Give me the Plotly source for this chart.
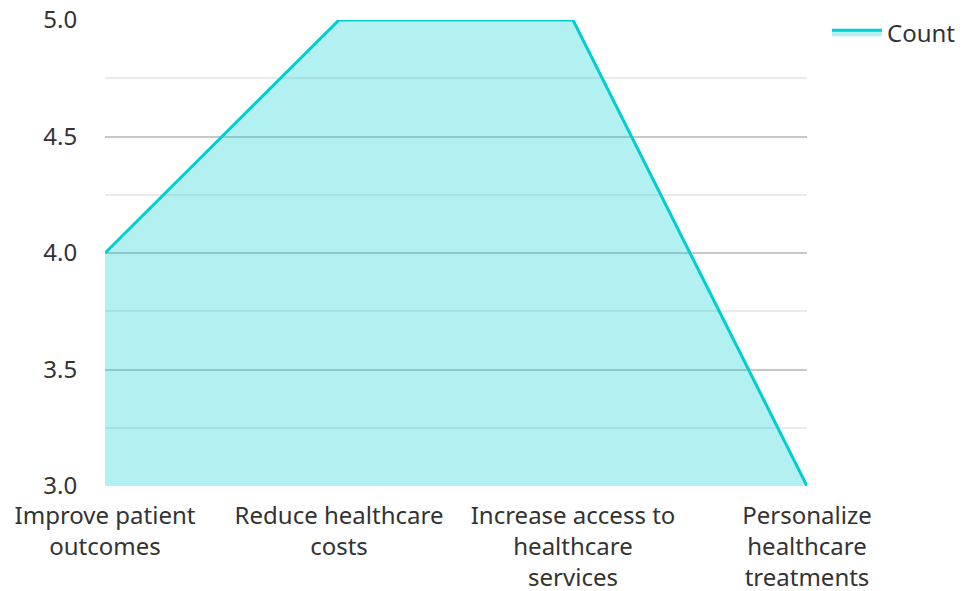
import plotly.graph_objects as go

categories = ["Improve patient<br>outcomes", "Reduce healthcare<br>costs",
              "Increase access to<br>healthcare<br>services", "Personalize<br>healthcare<br>treatments"]
counts = [4, 5, 5, 3]
series_name = "Count"

fig = go.Figure()
fig.add_trace(go.Scatter(
    x=categories, y=counts, name=series_name, mode="lines",
    line=dict(color="#00CED1", width=3),
    fill="tozeroy", fillcolor="rgba(0,206,209,0.3)",
))

font_family = "Noto Sans, Open Sans, sans-serif"
fs = 24
fig.update_layout(
    width=965, height=591,
    margin=dict(l=105, r=158, t=20, b=105),
    paper_bgcolor="white", plot_bgcolor="white",
    font=dict(family=font_family, size=fs, color="#333333"),
    showlegend=True,
    legend=dict(x=0.857, y=0.983, xref="container", yref="container", xanchor="left", yanchor="top",
                itemwidth=50, font=dict(size=fs, color="#333333"), bgcolor="rgba(0,0,0,0)"),
    xaxis=dict(type="category", range=[0, 3], showgrid=False, zeroline=False, automargin=False,
               showline=False, ticks="outside", ticklen=8, tickcolor="rgba(0,0,0,0)",
               tickfont=dict(size=fs, color="#333333")),
    yaxis=dict(range=[3, 5], dtick=0.5, tick0=3, tickformat=".1f", automargin=False,
               showgrid=True, gridcolor="#c8c8c8", gridwidth=2, zeroline=False,
               showline=False, ticks="outside", ticklen=22, tickcolor="rgba(0,0,0,0)",
               tickfont=dict(size=fs, color="#333333"),
               minor=dict(dtick=0.25, tick0=3, showgrid=True, gridcolor="#ebebeb", gridwidth=2)),
)

fig.write_html("out.html")
